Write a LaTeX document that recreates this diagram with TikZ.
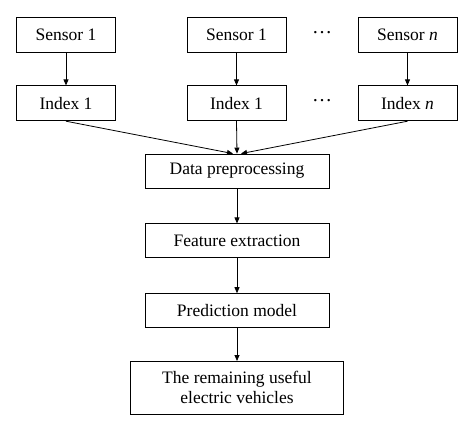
\documentclass[tikz,border=0pt]{standalone}
\usepackage{fontspec}
\setmainfont{Liberation Serif}
\usetikzlibrary{positioning,arrows.meta}

\begin{document}
\begin{tikzpicture}[->,>={Triangle[length=6pt,width=5pt]},x=1pt,y=-1pt,node distance=33pt,line width=0.8pt,
    box node/.style={draw,rectangle,-,minimum width=99pt,minimum height=35pt,inner sep=2pt,font=\fontsize{17.5}{20}\selectfont},
    dots node/.style={font=\fontsize{20}{20}\selectfont}]
    \useasboundingbox (0,0) rectangle (474,429);
    \node[box node] (s1) at (66,34.5) {Sensor 1};
    \node[box node] (s2) at (236.5,34.5) {Sensor 1};
    \node[box node] (s3) at (407.5,34.5) {Sensor \textit{n}};
    \node[box node] (i1) [below=of s1] {Index 1};
    \node[box node] (i2) [below=of s2] {Index 1};
    \node[box node] (i3) [below=of s3] {Index \textit{n}};
    \node[dots node] (d1) at (322,33) {…};
    \node[dots node] (d2) at (322,101) {…};
    \node[box node,minimum width=184pt,minimum height=34pt] (data) at (237,171) {Data preprocessing};
    \node[box node,minimum width=184pt,minimum height=34pt] (feat) [below=35pt of data] {Feature extraction};
    \node[box node,minimum width=184pt,minimum height=34pt] (pred) [below=35pt of feat] {Prediction model};
    \node[box node,minimum width=213pt,minimum height=53pt,align=center] (rul) [below=of pred] {The remaining useful\\electric vehicles};

    \path
        (s1) edge (i1)
        (s2) edge (i2)
        (s3) edge (i3)
        (i1.south) edge ([xshift=-4pt]data.north)
        (i2.south) edge (data.north)
        (i3.south) edge ([xshift=4pt]data.north)
        (data) edge (feat)
        (feat) edge (pred)
        (pred) edge (rul)
        ;
\end{tikzpicture}
\end{document}
